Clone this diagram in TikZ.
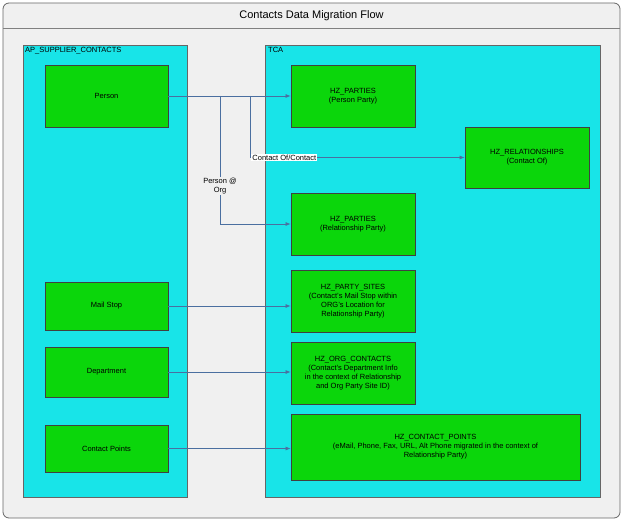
\documentclass[tikz,border=0pt]{standalone}
\usepackage{fontspec}
\setmainfont{Liberation Sans}
\usetikzlibrary{arrows.meta}
\definecolor{cy}{HTML}{18E4E8}
\definecolor{gr}{HTML}{0BD60B}
\definecolor{ln}{HTML}{4A6FA0}
\begin{document}
\begin{tikzpicture}[x=1pt,y=-1pt,
  box/.style={draw=black!75,line width=0.8pt,fill=gr,align=center,font=\fontsize{7.5}{9}\selectfont,inner sep=1pt},
  pan/.style={draw=black!60,line width=0.6pt,fill=cy},
  con/.style={draw=ln,line width=0.7pt,-{Latex[length=5pt,width=4pt]}},
  lab/.style={font=\fontsize{7.5}{9}\selectfont,align=center,inner sep=1pt}]
\useasboundingbox (0,0) rectangle (623,521);
\node[draw=black!60,line width=0.8pt,fill=black!6,rounded corners=6pt,minimum width=617pt,minimum height=515pt,inner sep=0pt] (frame) at (311.5,260.5) {};
\draw[black!50] (3,28) -- (620,28);
\node[font=\fontsize{11}{13}\selectfont] (title) at (311.5,16) {Contacts Data Migration Flow};
\node[pan,minimum width=164pt,minimum height=452pt,inner sep=0pt] (left) at (105,271) {};
\node[pan,minimum width=335pt,minimum height=452pt,inner sep=0pt] (right) at (432.5,271) {};
\node[lab,anchor=north west] (ll) at (24,46) {AP\_SUPPLIER\_CONTACTS};
\node[lab,anchor=north west] (rl) at (267,46) {TCA};
\node[box,minimum width=123pt,minimum height=62pt] (person) at (106.5,96) {Person};
\node[box,minimum width=123pt,minimum height=48pt] (mail) at (106.5,306) {Mail Stop};
\node[box,minimum width=123pt,minimum height=50pt] (dept) at (106.5,372) {Department};
\node[box,minimum width=123pt,minimum height=47pt] (cp) at (106.5,448.5) {Contact Points};
\node[box,minimum width=124pt,minimum height=62pt] (p1) at (353,96) {HZ\_PARTIES\\(Person Party)};
\node[box,minimum width=124pt,minimum height=61pt] (rel) at (527,157.5) {HZ\_RELATIONSHIPS\\(Contact Of)};
\node[box,minimum width=124pt,minimum height=62pt] (p2) at (353,224) {HZ\_PARTIES\\(Relationship Party)};
\node[box,minimum width=124pt,minimum height=62pt] (ps) at (353,301) {HZ\_PARTY\_SITES\\(Contact's Mail Stop within\\ORG's Location for\\Relationship Party)};
\node[box,minimum width=124pt,minimum height=62pt] (oc) at (353,373) {HZ\_ORG\_CONTACTS\\(Contact's Department Info\\in the context of Relationship\\and Org Party Site ID)};
\node[box,minimum width=289pt,minimum height=66pt] (cpt) at (435.5,447) {HZ\_CONTACT\_POINTS\\(eMail, Phone, Fax, URL, Alt Phone migrated in the context of\\Relationship Party)};
\coordinate (b1) at (220,96);
\coordinate (b2) at (250,96);
\draw[con] (person.east) -- (p1.west);
\draw[con] (b1) |- (p2.west) node[pos=0.35,lab,fill=black!6] (po) {Person @\\Org};
\draw[con] (b2) |- (rel.west) node[pos=0.58,lab,fill=white] (co) {Contact Of/Contact};
\draw[con] (mail.east) -- (mail.east -| ps.west);
\draw[con] (dept.east) -- (dept.east -| oc.west);
\draw[con] (cp.east) -- (cp.east -| cpt.west);
\end{tikzpicture}
\end{document}
